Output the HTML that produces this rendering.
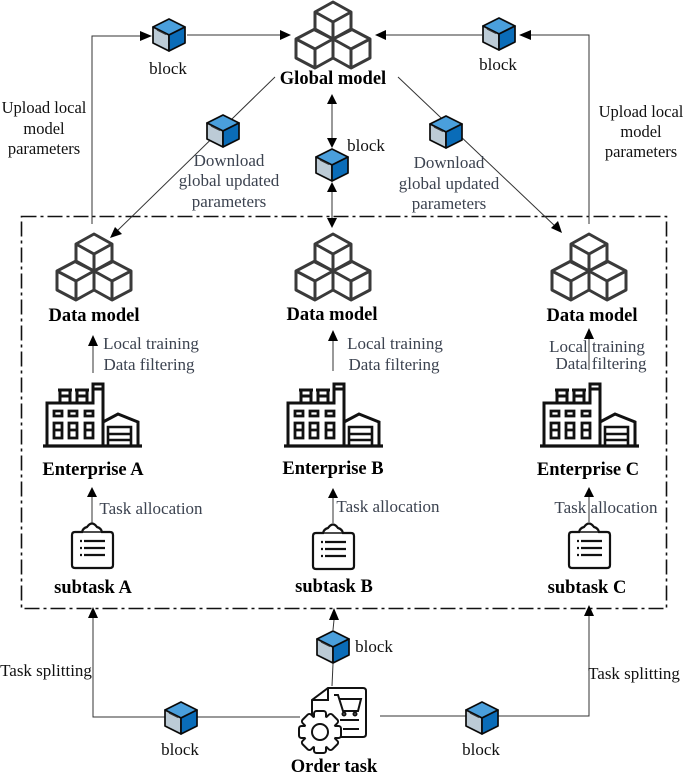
<!DOCTYPE html>
<html>
<head>
<meta charset="utf-8">
<style>
html,body{margin:0;padding:0;background:#fff;width:685px;height:773px;overflow:hidden}
svg{display:block}
text{font-family:"Liberation Serif",serif;font-size:16.5px;fill:#111;text-anchor:middle}
.b{font-weight:bold;font-size:18.5px;fill:#000}
.g{fill:#3c4350;font-size:17px}
.s{font-size:17px}
</style>
</head>
<body>
<svg width="685" height="773" viewBox="0 0 685 773" xmlns="http://www.w3.org/2000/svg">
<defs>
<g id="cubes" fill="none" stroke="#3a3a3a" stroke-width="3" stroke-linejoin="round">
<path d="M0-37L18-27V-9L0 0L-18-9V-27ZM-18-27L0-17L18-27M0-17V0"/>
<path d="M0 0L-18-10L-37 0V19L-18 29L0 19ZM-37 0L-18 10L0 0M-18 10V29"/>
<path d="M0 0L18-10L37 0V19L18 29L0 19ZM37 0L18 10L0 0M18 10V29"/>
</g>
<g id="block" stroke="#0a0a0a" stroke-width="1.7" stroke-linejoin="round">
<path d="M0-16L16-8L0 0L-16-8Z" fill="#4a9fdc"/>
<path d="M-16-8L0 0V16L-16 8Z" fill="#bccbd6"/>
<path d="M16-8L0 0V16L16 8Z" fill="#0a6cb8"/>
<path d="M-12-5L-3-0.5" stroke="#333" stroke-width="1.2"/>
</g>
<g id="factory" fill="none" stroke="#111" stroke-width="3">
<path d="M43 446H142" stroke-width="3.2"/>
<path d="M47 446V403H93V384H103V446"/>
<path d="M93 389H103"/>
<path d="M60 403V390H70V403M60 396H70M77 403V390H87V403M77 396H87M58 390H72M75 390H89"/>
<path d="M54 411H62V416H54ZM69 411H77V416H69ZM85 411H93V416H85Z" stroke-width="2.8"/>
<path d="M54 423H62V438H54ZM69 423H77V438H69ZM85 423H93V438H85ZM54 430H62M69 430H77M85 430H93" stroke-width="2.8"/>
<path d="M103 422L118 414L138 422V446"/>
<path d="M108 446V427H131V446M108 434H131M108 440H131" stroke-width="2.6"/>
</g>
<g id="clip" fill="none" stroke="#111" stroke-width="2.2">
<path d="M75 532H82Q83 528 87 527Q92 520 97 527Q101 528 102 532H110Q113 532 113 535V565Q113 568 110 568H75Q72 568 72 565V535Q72 532 75 532Z"/>
<path d="M82 532H102" stroke-width="1.5"/>
<path d="M84 541H105M84 548H105M84 555H105"/>
<path d="M80 541H82M80 548H82M80 555H82"/>
</g>
</defs>

<rect x="21.500" y="216.500" width="645" height="392" fill="none" stroke="#111" stroke-width="1.6" stroke-dasharray="15 4 3 4"/>

<g fill="none" stroke="#333" stroke-width="1">
<path d="M92 224V36H140"/>
<path d="M187 35H282"/>
<path d="M589 224V35H530"/>
<path d="M482 35H385"/>
<path d="M275 77L116 232"/>
<path d="M398 77L556 227"/>
<path d="M332 100V142"/>
<path d="M332 186V222"/>
<path d="M93 373V345"/>
<path d="M333 371V340"/>
<path d="M589 370V338"/>
<path d="M92 523V497"/>
<path d="M333 523V498"/>
<path d="M589 522V497"/>
<path d="M300 717H197"/>
<path d="M165 717H93V618"/>
<path d="M380 716H466"/>
<path d="M498 716H589V616"/>
<path d="M332 686L333 664"/>
<path d="M333 630L334 620"/>
</g>
<g fill="#000">
<path d="M152 36L140 31V41Z"/>
<path d="M291 35L280 30V40Z"/>
<path d="M519 35L531 30V40Z"/>
<path d="M375 35L386 30V40Z"/>
<path d="M110 238L115 227L122 234Z"/>
<path d="M562 233L551 228L558 221Z"/>
<path d="M332 94L327 104H337Z"/>
<path d="M332 148L327 138H337Z"/>
<path d="M332 182L327 192H337Z"/>
<path d="M332 228L327 218H337Z"/>
<path d="M93 335L88 346H98Z"/>
<path d="M333 330L328 341H338Z"/>
<path d="M589 328L584 339H594Z"/>
<path d="M92 487L87 497H97Z"/>
<path d="M333 488L328 498H338Z"/>
<path d="M589 487L584 497H594Z"/>
<path d="M93 607L88 618H98Z"/>
<path d="M589 605L584 616H594Z"/>
<path d="M334 608L329 620H339Z"/>
</g>

<use href="#cubes" x="333" y="39"/>
<use href="#cubes" x="94" y="271"/>
<use href="#cubes" x="333" y="271"/>
<use href="#cubes" x="589" y="271"/>

<use href="#block" x="169" y="35"/>
<use href="#block" x="499" y="34"/>
<use href="#block" x="223" y="131"/>
<use href="#block" x="446" y="132"/>
<use href="#block" x="332" y="165"/>
<use href="#block" x="333" y="647"/>
<use href="#block" x="181" y="718"/>
<use href="#block" x="482" y="718"/>

<use href="#factory"/>
<use href="#factory" x="241"/>
<use href="#factory" x="497"/>

<use href="#clip"/>
<use href="#clip" x="241" y="1"/>
<use href="#clip" x="497"/>

<g fill="none" stroke="#111" stroke-width="2">
<path d="M335 737H363Q366 737 366 734V691Q366 688 363 688H328L312 700V715"/>
<path d="M328 688V700H312"/>
<path d="M334 695H338L343 711H358L361 699H340"/>
<circle cx="344" cy="714" r="1.500"/>
<circle cx="355" cy="714" r="1.500"/>
<path d="M340 720H359M343 729H359"/>
<circle cx="320" cy="732" r="16.500" fill="#fff"/>
<g fill="#fff">
<rect x="314" y="711" width="12" height="10" rx="2.500"/>
<rect x="314" y="711" width="12" height="10" rx="2.500" transform="rotate(45 320 732)"/>
<rect x="314" y="711" width="12" height="10" rx="2.500" transform="rotate(90 320 732)"/>
<rect x="314" y="711" width="12" height="10" rx="2.500" transform="rotate(135 320 732)"/>
<rect x="314" y="711" width="12" height="10" rx="2.500" transform="rotate(180 320 732)"/>
<rect x="314" y="711" width="12" height="10" rx="2.500" transform="rotate(225 320 732)"/>
<rect x="314" y="711" width="12" height="10" rx="2.500" transform="rotate(270 320 732)"/>
<rect x="314" y="711" width="12" height="10" rx="2.500" transform="rotate(315 320 732)"/>
</g>
<circle cx="320" cy="732" r="15.500" fill="#fff" stroke="none"/>
<circle cx="320" cy="732" r="8"/>
</g>

<text class="b" x="333" y="84">Global model</text>
<text class="b" x="94" y="321">Data model</text>
<text class="b" x="332" y="320">Data model</text>
<text class="b" x="592" y="321">Data model</text>
<text class="b" x="93" y="475">Enterprise A</text>
<text class="b" x="333" y="474">Enterprise B</text>
<text class="b" x="588" y="475">Enterprise C</text>
<text class="b" x="93" y="593">subtask A</text>
<text class="b" x="334" y="592">subtask B</text>
<text class="b" x="587" y="593">subtask C</text>
<text class="b" x="334" y="772">Order task</text>

<text x="168" y="74" class="s">block</text>
<text x="498" y="70" class="s">block</text>
<text x="366" y="151" class="s">block</text>
<text x="374" y="652" class="s">block</text>
<text x="180" y="755" class="s">block</text>
<text x="481" y="755" class="s">block</text>

<text x="44" y="113">Upload local</text>
<text x="44" y="134">model</text>
<text x="44" y="154">parameters</text>
<text x="641" y="117">Upload local</text>
<text x="641" y="137">model</text>
<text x="641" y="157">parameters</text>

<text class="g" x="229" y="166">Download</text>
<text class="g" x="229" y="186">global updated</text>
<text class="g" x="229" y="207">parameters</text>
<text class="g" x="449" y="168">Download</text>
<text class="g" x="449" y="189">global updated</text>
<text class="g" x="449" y="209">parameters</text>
<text class="g" x="151" y="349">Local training</text>
<text class="g" x="149" y="370">Data filtering</text>
<text class="g" x="395" y="349">Local training</text>
<text class="g" x="394" y="370">Data filtering</text>
<text class="g" x="597" y="352">Local training</text>
<text class="g" x="601" y="369">Data filtering</text>
<text class="g" x="151" y="514">Task allocation</text>
<text class="g" x="388" y="512">Task allocation</text>
<text class="g" x="606" y="513">Task allocation</text>

<text x="46" y="676" class="s">Task splitting</text>
<text x="634" y="679" class="s">Task splitting</text>
</svg>
</body>
</html>
